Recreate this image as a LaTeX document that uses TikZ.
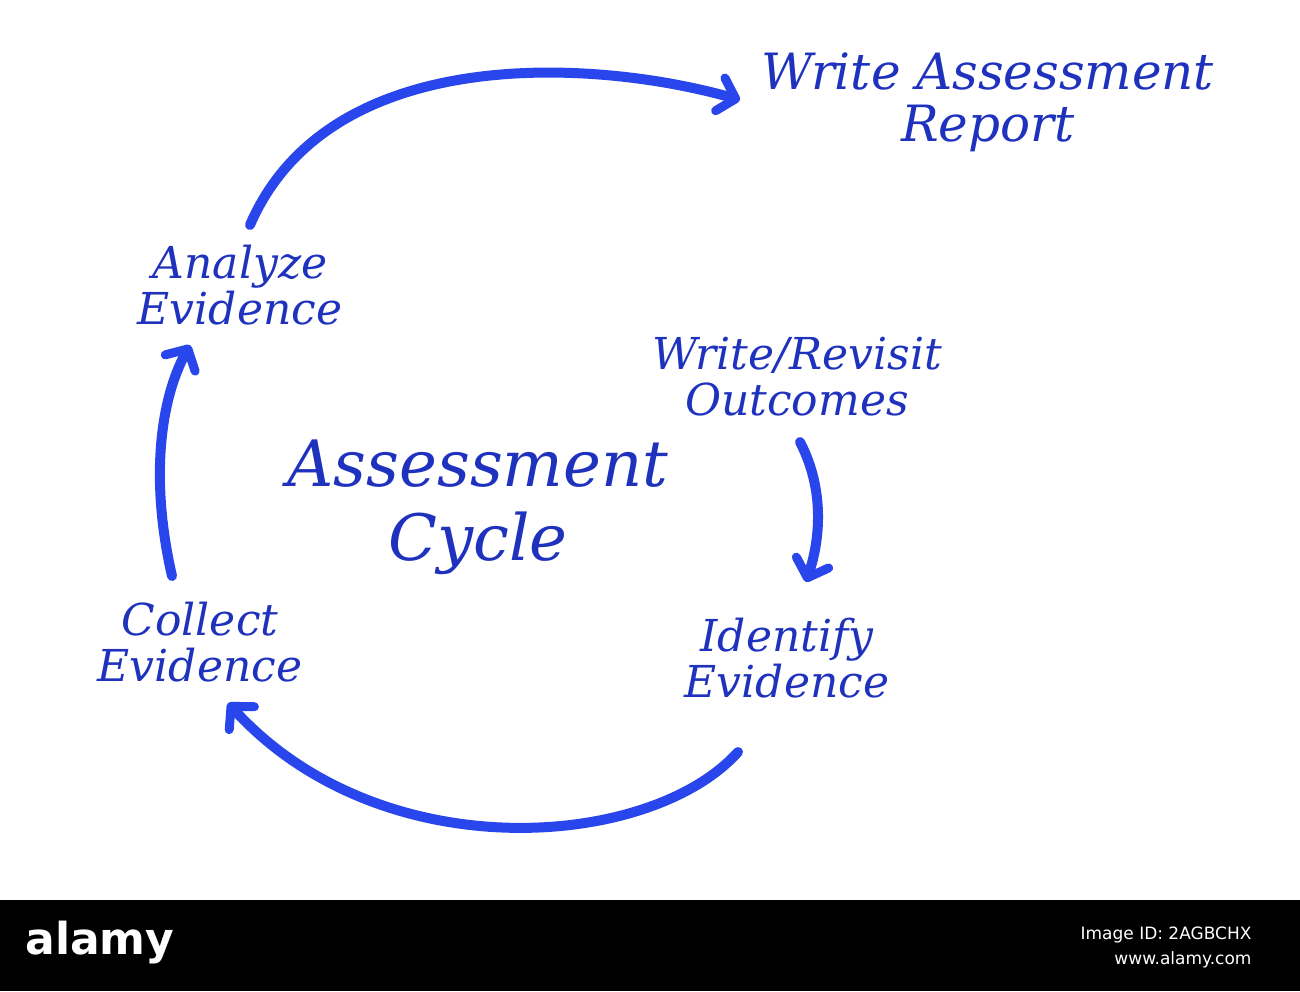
\documentclass[tikz,border=0pt]{standalone}
\usepackage{fontspec}
\setmainfont{DejaVu Serif}
\setsansfont{DejaVu Sans}
\usetikzlibrary{arrows.meta}
\definecolor{txtblue}{RGB}{30,50,190}
\definecolor{arrblue}{RGB}{40,70,235}
\begin{document}
\begin{tikzpicture}[x=1pt,y=-1pt,
  lbl/.style={text=txtblue,align=center,font=\itshape\fontsize{44}{46}\selectfont},
  cyc/.style={draw=arrblue,line width=10pt,line cap=round,-{Straight Barb[length=16pt,width=34pt,line width=9pt,round]}}]
\useasboundingbox (0,0) rectangle (1300,991);
\fill[white] (0,0) rectangle (1300,900);
\node[lbl,font=\itshape\fontsize{50}{52}\selectfont] (report) at (988,102) {Write Assessment\\Report};
\node[lbl] (analyze) at (240,285) {Analyze\\Evidence};
\node[lbl] (outcomes) at (797,377) {Write/Revisit\\Outcomes};
\node[lbl,font=\itshape\fontsize{64}{74}\selectfont] (cycle) at (478,507) {Assessment\\Cycle};
\node[lbl] (collect) at (200,642) {Collect\\Evidence};
\node[lbl] (identify) at (787,658) {Identify\\Evidence};
\coordinate (a1) at (250,225); \coordinate (a2) at (740,100);
\coordinate (b1) at (172,576); \coordinate (b2) at (190,345);
\coordinate (c1) at (800,442); \coordinate (c2) at (806,582);
\coordinate (d1) at (738,752); \coordinate (d2) at (228,703);
\draw[cyc] (a1) .. controls (330,40) and (600,60) .. (a2);
\draw[cyc] (b1) .. controls (150,480) and (160,400) .. (b2);
\draw[cyc] (c1) .. controls (825,490) and (820,540) .. (c2);
\draw[cyc] (d1) .. controls (650,850) and (380,870) .. (d2);
\fill[black] (0,900) rectangle (1300,991);
\node[text=white,font=\sffamily\bfseries\fontsize{44}{48}\selectfont] (alamy) at (100,943) {alamy};
\node[text=white,anchor=east,font=\sffamily\fontsize{17}{20}\selectfont] (imgid) at (1255,935) {Image ID: 2AGBCHX};
\node[text=white,anchor=east,font=\sffamily\fontsize{17}{20}\selectfont] (www) at (1255,960) {www.alamy.com};
\end{tikzpicture}
\end{document}
